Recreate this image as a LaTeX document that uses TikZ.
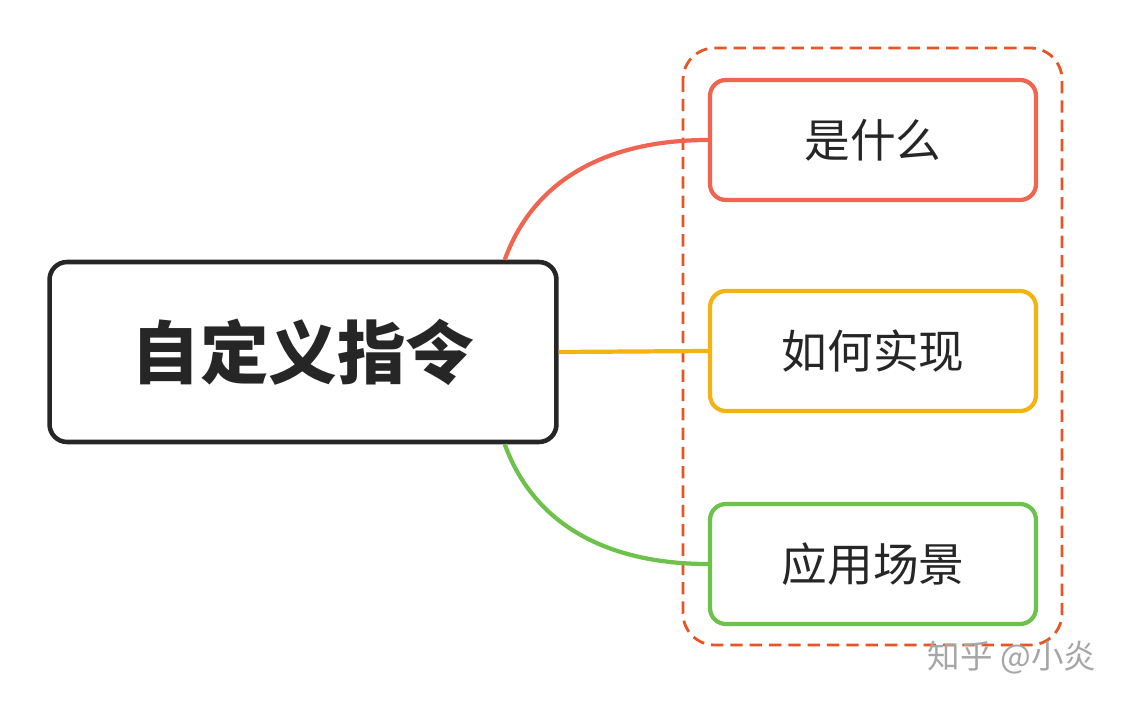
\documentclass[tikz,border=0pt]{standalone}
\usepackage{fontspec}
\newfontfamily\cjk{Noto Sans CJK SC}
\usetikzlibrary{positioning}
\definecolor{redline}{HTML}{F0654F}
\definecolor{orangeline}{HTML}{F5B311}
\definecolor{greenline}{HTML}{6CC24A}
\definecolor{dashline}{HTML}{E85424}

\begin{document}
\begin{tikzpicture}[x=0.02cm, y=-0.02cm,
  topic/.style={draw=black!85, line width=2.6pt, rounded corners=10pt, fill=white, text=black!85,
    minimum width=10.14cm, minimum height=3.6cm, font=\cjk\bfseries\fontsize{39}{44}\selectfont},
  sub/.style={line width=2.4pt, rounded corners=9pt, fill=white, text=black!85,
    minimum width=6.52cm, minimum height=2.4cm, font=\cjk\fontsize{26}{30}\selectfont},
  link/.style={line width=2.4pt}]
\useasboundingbox[fill=white] (0,0) rectangle (1128,702);
% dashed group frame
\draw[dashline, line width=1.6pt, dash pattern=on 7pt off 4pt, rounded corners=18pt] (683,48) rectangle (1062,645);

\node[topic] (root) at (303,352) {自定义指令};
\node[sub, draw=redline] (what) at (873,140) {是什么};
\node[sub, draw=orangeline] (how) at (873,351) {如何实现};
\node[sub, draw=greenline] (use) at (873,564) {应用场景};

% branches
\draw[link, redline] (root.north east) ++(-54,0) to[out=70, in=180] (what.west);
\draw[link, orangeline] (root.east) -- (how.west);
\draw[link, greenline] (root.south east) ++(-54,0) to[out=-70, in=180] (use.west);

\node[text=black!35, font=\cjk\fontsize{18.5}{22}\selectfont] (mark) at (1012,658) {知乎 @小炎};
\end{tikzpicture}
\end{document}
